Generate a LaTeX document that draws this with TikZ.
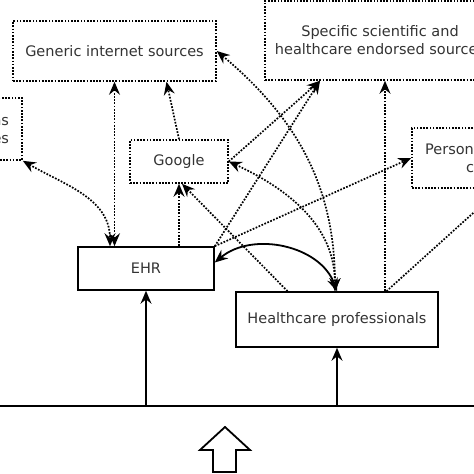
\documentclass[tikz,border=0pt]{standalone}
\usepackage{fontspec}
\setmainfont{DejaVu Sans}
\usetikzlibrary{arrows.meta}
\tikzset{
>={Stealth[length=13pt, width=11pt, inset=4.5pt]}, % bold arrow heads
web/.style={draw, dash pattern=on 1.7pt off 1.5pt, line width=1.6pt, align=center, inner sep=0pt}, % dotted boxes for the sources
actor/.style={draw, line width=1.6pt, inner sep=0pt}, % solid boxes
info/.style={dash pattern=on 1.7pt off 1.5pt, line width=1.7pt}, % dotted information flows
flow/.style={line width=1.8pt}, % solid flows
every node/.style={font=\fontsize{14.5}{18}\selectfont, text=black!80}, % text of all boxes
}
\begin{document}
\begin{tikzpicture}[x=1pt, y=1pt]
            \useasboundingbox (0,0) rectangle (474,474);
            \clip (0,0) rectangle (474,474);

            \node[web, minimum width=203, minimum height=60] (gen) at (114.5,423) {Generic internet sources};
            \node[web, minimum width=230, minimum height=79] (spec) at (380,433.5) {Specific scientific and\\healthcare endorsed sources};
            \node[web, minimum height=62, text width=140, inner xsep=13, align=right] (onl) at (-61,345) {Online forums\\and communities};
            \node[web, minimum width=98, minimum height=43] (goo) at (179,312.5) {Google};
            \node[web, minimum width=170, minimum height=60] (pers) at (497,316) {Personal network of\\contacts};
            \node[actor, minimum width=136, minimum height=43] (ehr) at (146,205.5) {EHR};
            \node[actor, minimum width=202, minimum height=55] (hp) at (337,154.5) {Healthcare professionals};
            \coordinate (bl) at (0,68);
            \coordinate (br) at (474,68);
            \coordinate (hpm) at ([xshift=-2]hp.north);
            \coordinate (hpr) at ([xshift=48]hp.north);
            \coordinate (specl) at ([xshift=-60]spec.south);

            % solid links
            \draw[flow] (bl) -- (br);
            \draw[flow, ->] (ehr.south |- bl) -- (ehr.south);
            \draw[flow, ->] (hp.south |- bl) -- (hp.south);
            \draw[flow, <->] ([yshift=6]ehr.east) to[out=40, in=110] (hp.north);

            % dotted links
            \draw[info, <->] (gen.south) -- (gen.south |- ehr.north);
            \draw[info, <->] (onl.south east) to[out=-30, in=90] ([xshift=-36]ehr.north);
            \draw[info, ->] (goo.north) -- ([xshift=52]gen.south);
            \draw[info, ->] (ehr.north -| goo.south) -- (goo.south);
            \draw[info, ->] ([xshift=-49.5]hp.north) -- ([xshift=3]goo.south);
            \draw[info, ->] (ehr.north east) -- (specl);
            \draw[info, ->] (goo.east) -- (specl);
            \draw[info, ->] (ehr.north east) -- (pers.west);
            \draw[info, ->] (hpr) -- (hpr |- spec.south);
            \draw[info, ->] ([xshift=49.5]hp.north) -- ([xshift=3]pers.south);
            \draw[info, <->] (gen.east) to[out=-40, in=90] (hpm);
            \draw[info, <->] (goo.east) to[out=-25, in=90] (hpm);

            % big open arrow below
            \draw[flow, fill=white] (213,2) -- (213,24) -- (200,24) -- (225,47) -- (250,24) -- (236,24) -- (236,2) -- cycle;
        \end{tikzpicture}
\end{document}
